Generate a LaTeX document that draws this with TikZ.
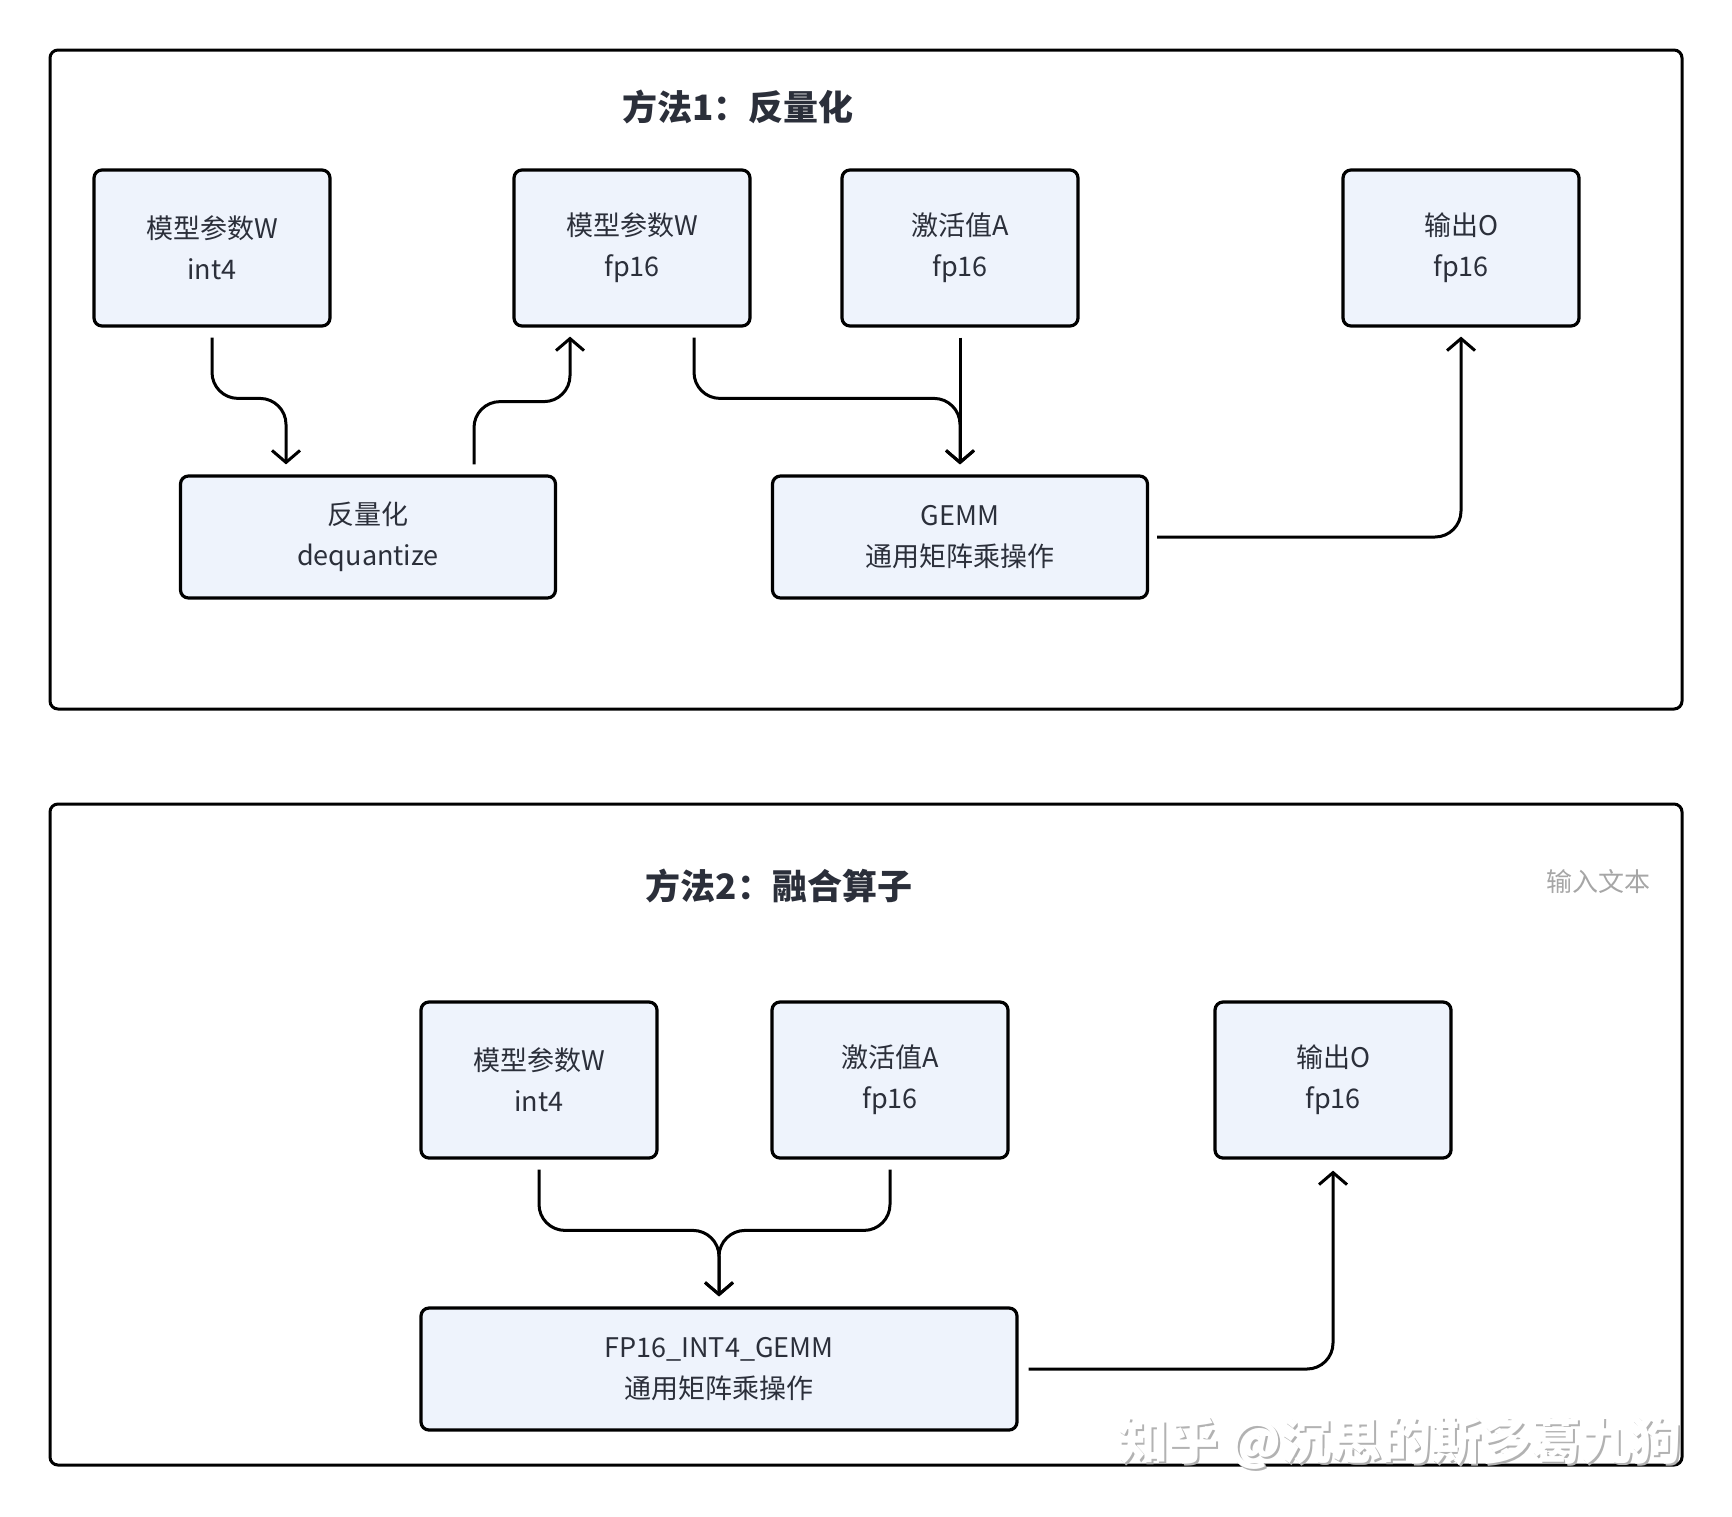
\documentclass[tikz,border=0pt]{standalone}
\usepackage{fontspec}
\setmainfont{Noto Sans CJK SC}
\usetikzlibrary{arrows.meta,calc}
\definecolor{boxfill}{HTML}{EEF3FC}
\definecolor{txt}{HTML}{2B2F3A}
\begin{document}
\begin{tikzpicture}[x=0.5pt,y=-0.5pt,
  box/.style={draw, line width=1.6pt, rounded corners=4pt, fill=boxfill, text=txt, align=center,
    minimum width=118pt, minimum height=78pt, inner sep=0pt, font=\fontsize{13.5pt}{20.5pt}\selectfont},
  widebox/.style={box, minimum height=61pt},
  frame/.style={line width=1.5pt, rounded corners=4pt},
  arr/.style={line width=1.5pt, rounded corners=13pt, -{Straight Barb[length=6pt,width=14pt]}},
  title/.style={text=txt, font=\fontsize{17.5pt}{20pt}\selectfont\bfseries}]
\useasboundingbox (0,0) rectangle (1732,1516);
\draw[frame] (50,50) rectangle (1682,709);
\draw[frame] (50,804) rectangle (1682,1465);
\node[title] (t1) at (738,107) {方法1：反量化};
\node[title] (t2) at (779,886) {方法2：融合算子};
\node[text=gray!70, font=\fontsize{13pt}{15pt}\selectfont] (hint) at (1598,882) {输入文本};

\node[box] (w1) at (212,248) {模型参数W\\int4};
\node[box] (w2) at (632,248) {模型参数W\\fp16};
\node[box] (a1) at (960,248) {激活值A\\fp16};
\node[box] (o1) at (1461,248) {输出O\\fp16};
\node[widebox, minimum width=187.5pt] (dq) at (368,537) {反量化\\dequantize};
\node[widebox, minimum width=187.5pt] (gm) at (960,537) {GEMM\\通用矩阵乘操作};

\draw[arr] ([yshift=-5pt]w1.south) |- ($(dq.north)+(-82,-76)$) -- ([shift={(-82,-10)}]dq.north);
\draw[arr] ([shift={(106,-10)}]dq.north) |- ($(w2.south)+(-62,74)$) -- ([shift={(-62,9)}]w2.south);
\draw[arr] ([shift={(62,10)}]w2.south) |- ($(gm.north)+(0,-76)$) -- ([yshift=5pt]gm.north);
\draw[arr] ([yshift=-5pt]a1.south) -- ([yshift=5pt]gm.north);
\draw[arr] ([xshift=4pt]gm.east) -| ([yshift=-4.5pt]o1.south);

\node[box] (w3) at (539,1080) {模型参数W\\int4};
\node[box] (a2) at (890,1080) {激活值A\\fp16};
\node[box] (o2) at (1333,1080) {输出O\\fp16};
\node[widebox, minimum width=298pt] (fg) at (719,1369) {FP16\_INT4\_GEMM\\通用矩阵乘操作};

\draw[arr] ([yshift=-5pt]w3.south) |- ($(fg.north)+(0,-76)$) -- ([yshift=5pt]fg.north);
\draw[arr] ([yshift=-5pt]a2.south) |- ($(fg.north)+(0,-76)$) -- ([yshift=5pt]fg.north);
\draw[arr] ([xshift=5pt]fg.east) -| ([yshift=-5.5pt]o2.south);

\node[text=gray!60, font=\fontsize{25pt}{27pt}\selectfont\bfseries] (wm) at (1402,1445) {知乎 @沉思的斯多葛九狗};
\node[text=white, font=\fontsize{25pt}{27pt}\selectfont\bfseries] (wm2) at (1400,1443) {知乎 @沉思的斯多葛九狗};
\end{tikzpicture}
\end{document}
